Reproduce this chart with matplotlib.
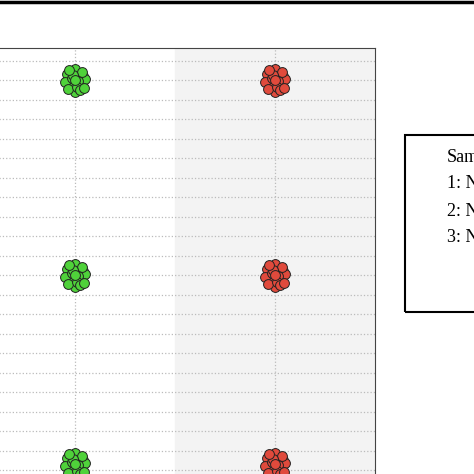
import matplotlib
matplotlib.use("Agg")
import matplotlib.pyplot as plt
from matplotlib.patches import Rectangle
from matplotlib.lines import Line2D

# cluster centres (x category, y level)
group_x = [1, 3]
group_colors = ["#4fd23a", "#e04a3c"]
levels = [0, 10, 19.7]
# hand-read jitter offsets within a cluster
dx = [-0.08, 0.0, 0.08, -0.05, 0.05, -0.1, 0.1, 0.0, -0.03, 0.03, -0.07, 0.07, 0.02, -0.02, 0.05, -0.06, 0.09, 0.0]
dy = [-0.3, -0.55, -0.2, 0.15, 0.3, 0.1, -0.05, 0.6, -0.1, 0.05, 0.45, -0.4, 0.35, -0.25, 0.5, -0.5, 0.4, 0.0]
legend_lines = ["Sample", "1: NC", "2: NC", "3: NC"]

fig = plt.figure(figsize=(4.74, 4.74), dpi=100)
W = H = 474.0
ax = fig.add_axes([-25 / W, 1 - 500 / H, 400 / W, (500 - 48) / H])
ax.set_xlim(0, 4)
top = (48 - 80) / 19.5
bottom = (500 - 80) / 19.5
ax.set_ylim(bottom, top)
ax.axvspan(2, 4, color="#f3f3f3", zorder=0)
ax.set_xticks(group_x)
ax.set_yticks(range(-1, 22))
ax.grid(True, linestyle=":", color="#bbbbbb", linewidth=0.9)
ax.set_axisbelow(True)
ax.tick_params(left=False, bottom=False, labelleft=False, labelbottom=False)
for s in ax.spines.values():
    s.set_color("#444444")

for gx, col in zip(group_x, group_colors):
    for lv in levels:
        xs = [gx + d for d in dx]
        ys = [lv + d for d in dy]
        ax.scatter(xs, ys, s=50, color=col, edgecolor="#222222", linewidths=0.7, zorder=3)

fig.add_artist(Line2D([0, 1], [1 - 1.5 / H, 1 - 1.5 / H], color="black", linewidth=2.5))
fig.add_artist(Rectangle((405 / W, 1 - 312 / H), 80 / W, 177 / H, transform=fig.transFigure,
                         fill=False, edgecolor="black", linewidth=1.5))
for i, t in enumerate(legend_lines):
    fig.text(447 / W, 1 - (157 + 27 * i) / H, t, family="Liberation Serif", fontsize=13, va="center")

fig.savefig("out.png", dpi=100)
